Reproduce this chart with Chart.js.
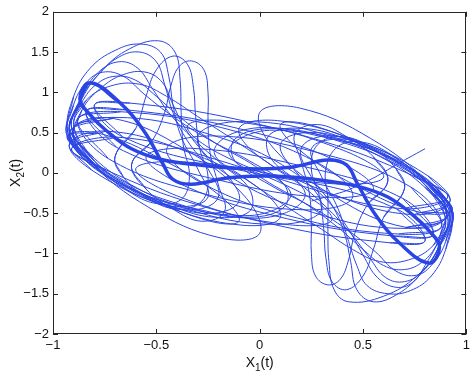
<!DOCTYPE html>
<html>
<head>
<meta charset="utf-8">
<script src="https://cdn.jsdelivr.net/npm/chart.js@4.4.0/dist/chart.umd.min.js"></script>
<style>
  html, body { margin: 0; padding: 0; background: #fff; }
  #wrap { width: 474px; height: 375px; }
</style>
</head>
<body>
<div id="wrap"><canvas id="phase"></canvas></div>
<script>
// Axis ticks
const xTicks = [-1, -0.5, 0, 0.5, 1];
const yTicks = [-2, -1.5, -1, -0.5, 0, 0.5, 1, 1.5, 2];

// Thick repeated orbit (closed S-shaped figure), [x1, x2]
const orbit = [
  [-0.82, 1.12], [-0.68, 0.88], [-0.56, 0.52], [-0.47, 0.12], [-0.42, -0.08], [-0.33, -0.14],
  [-0.15, -0.06], [0.05, -0.04], [0.30, -0.09], [0.48, -0.17], [0.62, -0.30], [0.74, -0.52],
  [0.82, -0.72], [0.87, -0.92], [0.82, -1.12], [0.68, -0.88], [0.56, -0.52], [0.47, -0.12],
  [0.42, 0.10], [0.33, 0.16], [0.15, 0.07], [-0.05, 0.05], [-0.30, 0.10], [-0.48, 0.17],
  [-0.62, 0.30], [-0.74, 0.52], [-0.82, 0.72], [-0.87, 0.92]
];

// Straight piece where the trajectory starts
const start = [[0.80, 0.30], [0.68, 0.13], [0.56, -0.05], [0.42, -0.22], [0.25, -0.35]];

// Tall lobes around the left well
const leftLobes = [
  [[-0.92, 0.48], [-0.86, 0.92], [-0.76, 1.28], [-0.63, 1.54], [-0.49, 1.64], [-0.41, 1.50], [-0.385, 1.15], [-0.38, 0.75], [-0.37, 0.35], [-0.34, -0.05], [-0.38, -0.33], [-0.50, -0.38], [-0.64, -0.22], [-0.79, 0.08]],
  [[-0.62, 0.10], [-0.52, 0.40], [-0.46, 0.75], [-0.43, 1.08], [-0.39, 1.32], [-0.33, 1.39], [-0.27, 1.28], [-0.25, 1.00], [-0.25, 0.64], [-0.24, 0.25], [-0.20, -0.15], [-0.17, -0.48], [-0.28, -0.60], [-0.42, -0.45], [-0.55, -0.20]],
  [[-0.92, 0.50], [-0.87, 0.90], [-0.78, 1.22], [-0.68, 1.44], [-0.58, 1.50], [-0.50, 1.38], [-0.46, 1.10], [-0.42, 0.75], [-0.35, 0.40], [-0.25, 0.05], [-0.20, -0.30], [-0.32, -0.46], [-0.50, -0.36], [-0.68, -0.12], [-0.82, 0.17]],
  [[-0.91, 0.55], [-0.86, 0.95], [-0.78, 1.25], [-0.68, 1.38], [-0.59, 1.30], [-0.52, 1.05], [-0.44, 0.75], [-0.32, 0.42], [-0.18, 0.10], [-0.05, -0.20], [-0.05, -0.48], [-0.22, -0.55], [-0.42, -0.42], [-0.62, -0.20], [-0.80, 0.15]],
  [[-0.93, 0.45], [-0.90, 0.85], [-0.84, 1.12], [-0.76, 1.25], [-0.66, 1.20], [-0.56, 0.98], [-0.42, 0.70], [-0.25, 0.42], [-0.05, 0.15], [0.12, -0.15], [0.12, -0.42], [-0.05, -0.55], [-0.30, -0.45], [-0.55, -0.28], [-0.75, -0.02]],
  [[-0.90, 0.60], [-0.84, 0.90], [-0.72, 1.08], [-0.58, 1.10], [-0.45, 0.95], [-0.30, 0.70], [-0.12, 0.40], [0.08, 0.05], [0.22, -0.25], [0.12, -0.50], [-0.12, -0.55], [-0.40, -0.38], [-0.65, -0.12], [-0.82, 0.20]],
  [[-0.90, 0.42], [-0.86, 0.78], [-0.77, 1.05], [-0.66, 1.22], [-0.55, 1.25], [-0.47, 1.12], [-0.42, 0.85], [-0.36, 0.55], [-0.27, 0.25], [-0.15, -0.05], [-0.10, -0.35], [-0.22, -0.50], [-0.42, -0.42], [-0.60, -0.22], [-0.78, 0.05]],
  [[-0.92, 0.55], [-0.86, 0.88], [-0.79, 1.10], [-0.70, 1.20], [-0.60, 1.15], [-0.50, 0.95], [-0.38, 0.68], [-0.22, 0.38], [-0.02, 0.08], [0.15, -0.25], [0.05, -0.48], [-0.15, -0.52], [-0.40, -0.40], [-0.62, -0.15], [-0.80, 0.18]],
  [[-0.70, 0.20], [-0.60, 0.55], [-0.55, 0.95], [-0.50, 1.28], [-0.42, 1.45], [-0.35, 1.35], [-0.32, 1.05], [-0.31, 0.70], [-0.29, 0.30], [-0.25, -0.05], [-0.28, -0.35], [-0.40, -0.45], [-0.55, -0.30], [-0.66, -0.05]],
  [[-0.93, 0.52], [-0.90, 0.95], [-0.82, 1.30], [-0.70, 1.52], [-0.58, 1.60], [-0.48, 1.50], [-0.44, 1.20], [-0.42, 0.85], [-0.38, 0.45], [-0.30, 0.05], [-0.25, -0.30], [-0.38, -0.42], [-0.55, -0.32], [-0.72, -0.08], [-0.86, 0.20]]
];

// Long tilted loops of the left well
const leftEllipses = [
  [[-0.92, 0.50], [-0.702, 0.689], [-0.255, 0.489], [0.160, 0.017], [0.30, -0.45], [0.082, -0.639], [-0.365, -0.439], [-0.78, 0.033]],
  [[-0.88, 0.66], [-0.672, 0.759], [-0.183, 0.561], [0.282, 0.123], [0.45, -0.30], [0.222, -0.459], [-0.267, -0.261], [-0.732, 0.177]],
  [[-0.92, 0.36], [-0.744, 0.519], [-0.365, 0.276], [-0.016, -0.167], [0.10, -0.55], [-0.086, -0.649], [-0.465, -0.406], [-0.814, 0.037]],
  [[-0.84, 0.76], [-0.649, 0.784], [-0.134, 0.57], [0.363, 0.162], [0.55, -0.20], [0.319, -0.304], [-0.196, -0.09], [-0.693, 0.318]],
  [[-0.91, 0.30], [-0.693, 0.444], [-0.241, 0.19], [0.191, -0.234], [0.35, -0.58], [0.143, -0.644], [-0.309, -0.39], [-0.741, 0.034]],
  [[-0.80, 0.84], [-0.628, 0.867], [-0.104, 0.661], [0.404, 0.281], [0.60, -0.05], [0.368, -0.137], [-0.156, 0.069], [-0.664, 0.449]],
  [[-0.93, 0.46], [-0.777, 0.491], [-0.471, 0.165], [-0.191, -0.287], [-0.10, -0.60], [-0.253, -0.591], [-0.559, -0.265], [-0.839, 0.187]],
  [[-0.90, 0.56], [-0.708, 0.676], [-0.365, 0.299], [-0.072, -0.292], [0.00, -0.75], [-0.192, -0.806], [-0.536, -0.429], [-0.828, 0.162]]
];

// Hanging lobes around the right well
const rightLobes = [
  [[0.93, -0.48], [0.87, -0.92], [0.76, -1.28], [0.60, -1.53], [0.43, -1.60], [0.36, -1.45], [0.335, -1.10], [0.33, -0.72], [0.33, -0.33], [0.32, 0.05], [0.38, 0.33], [0.50, 0.38], [0.64, 0.22], [0.79, -0.08]],
  [[0.62, -0.10], [0.52, -0.40], [0.46, -0.75], [0.43, -1.08], [0.39, -1.32], [0.33, -1.39], [0.27, -1.28], [0.25, -1.00], [0.25, -0.64], [0.24, -0.25], [0.20, 0.15], [0.17, 0.48], [0.28, 0.60], [0.42, 0.45], [0.55, 0.20]],
  [[0.92, -0.50], [0.87, -0.90], [0.78, -1.25], [0.67, -1.50], [0.55, -1.60], [0.47, -1.45], [0.44, -1.10], [0.41, -0.75], [0.35, -0.40], [0.25, -0.05], [0.20, 0.30], [0.32, 0.46], [0.50, 0.36], [0.68, 0.12], [0.82, -0.17]],
  [[0.91, -0.55], [0.86, -0.95], [0.79, -1.22], [0.70, -1.35], [0.61, -1.30], [0.53, -1.05], [0.44, -0.75], [0.32, -0.42], [0.18, -0.10], [0.05, 0.20], [0.05, 0.48], [0.22, 0.55], [0.42, 0.42], [0.62, 0.20], [0.80, -0.15]],
  [[0.93, -0.45], [0.90, -0.85], [0.84, -1.12], [0.76, -1.27], [0.66, -1.22], [0.56, -0.98], [0.42, -0.70], [0.25, -0.42], [0.05, -0.15], [-0.12, 0.15], [-0.12, 0.42], [0.05, 0.55], [0.30, 0.45], [0.55, 0.28], [0.75, 0.02]],
  [[0.90, -0.60], [0.84, -0.90], [0.72, -1.08], [0.58, -1.10], [0.45, -0.95], [0.30, -0.70], [0.12, -0.40], [-0.08, -0.05], [-0.22, 0.25], [-0.12, 0.50], [0.12, 0.55], [0.40, 0.38], [0.65, 0.12], [0.82, -0.20]],
  [[0.90, -0.42], [0.87, -0.80], [0.80, -1.15], [0.74, -1.36], [0.66, -1.42], [0.57, -1.30], [0.50, -1.02], [0.43, -0.70], [0.33, -0.35], [0.18, 0.00], [0.10, 0.35], [0.22, 0.50], [0.42, 0.42], [0.60, 0.22], [0.78, -0.05]],
  [[0.92, -0.55], [0.86, -0.88], [0.79, -1.10], [0.70, -1.20], [0.60, -1.15], [0.50, -0.95], [0.38, -0.68], [0.22, -0.38], [0.02, -0.08], [-0.15, 0.25], [-0.05, 0.48], [0.15, 0.52], [0.40, 0.40], [0.62, 0.15], [0.80, -0.18]],
  [[0.70, -0.20], [0.60, -0.55], [0.55, -0.95], [0.50, -1.28], [0.42, -1.45], [0.35, -1.35], [0.32, -1.05], [0.31, -0.70], [0.29, -0.30], [0.25, 0.05], [0.28, 0.35], [0.40, 0.45], [0.55, 0.30], [0.66, 0.05]],
  [[0.93, -0.52], [0.90, -0.95], [0.83, -1.28], [0.73, -1.46], [0.62, -1.50], [0.52, -1.40], [0.47, -1.15], [0.43, -0.85], [0.38, -0.45], [0.30, -0.05], [0.25, 0.30], [0.38, 0.42], [0.55, 0.32], [0.72, 0.08], [0.86, -0.20]]
];

// Long tilted loops of the right well
const rightEllipses = [
  [[0.92, -0.50], [0.702, -0.689], [0.255, -0.489], [-0.160, -0.017], [-0.30, 0.45], [-0.082, 0.639], [0.365, 0.439], [0.78, -0.033]],
  [[0.88, -0.66], [0.672, -0.759], [0.183, -0.561], [-0.282, -0.123], [-0.45, 0.30], [-0.222, 0.459], [0.267, 0.261], [0.732, -0.177]],
  [[0.92, -0.36], [0.744, -0.519], [0.365, -0.276], [0.016, 0.167], [-0.10, 0.55], [0.086, 0.649], [0.465, 0.406], [0.814, -0.037]],
  [[0.84, -0.76], [0.649, -0.784], [0.134, -0.57], [-0.363, -0.162], [-0.55, 0.20], [-0.319, 0.304], [0.196, 0.09], [0.693, -0.318]],
  [[0.91, -0.30], [0.693, -0.444], [0.241, -0.19], [-0.191, 0.234], [-0.35, 0.58], [-0.143, 0.644], [0.309, 0.39], [0.741, -0.034]],
  [[0.80, -0.84], [0.628, -0.867], [0.104, -0.661], [-0.404, -0.281], [-0.60, 0.05], [-0.368, 0.137], [0.156, -0.069], [0.664, -0.449]],
  [[0.93, -0.46], [0.777, -0.491], [0.471, -0.165], [0.191, 0.287], [0.10, 0.60], [0.253, 0.591], [0.559, 0.265], [0.839, -0.187]],
  [[0.90, -0.56], [0.708, -0.676], [0.365, -0.299], [0.072, 0.292], [0.00, 0.75], [0.192, 0.806], [0.536, 0.429], [0.828, -0.162]]
];

const lineBlue = '#2a45e4';

function toPoints(pairs) {
  return pairs.map(p => ({ x: p[0], y: p[1] }));
}
// wrap a closed loop so the spline stays smooth where it joins
function closeLoop(pairs) {
  return [pairs[pairs.length - 1], ...pairs, pairs[0], pairs[1]];
}

const datasets = [];
[leftLobes, leftEllipses, rightLobes, rightEllipses].forEach(group => {
  group.forEach(loop => datasets.push({ data: toPoints(closeLoop(loop)), borderWidth: 1 }));
});
datasets.push({ data: toPoints(start), borderWidth: 1, tension: 0.2 });
datasets.push({ data: toPoints(closeLoop(orbit)), borderWidth: 3.5 });
datasets.forEach(d => {
  d.showLine = true;
  d.pointRadius = 0;
  d.borderColor = lineBlue;
  d.fill = false;
  d.borderJoinStyle = 'round';
  if (d.tension === undefined) d.tension = 0.4;
});

const fontFamily = '"Liberation Sans", Arial, Helvetica, sans-serif';
const fmt = v => (v < 0 ? '\u2212' : '') + Math.abs(v);

// Box, inward ticks and axis titles like the original figure
const matlabAxes = {
  id: 'matlabAxes',
  afterDraw(chart) {
    const { ctx, chartArea: a, scales } = chart;
    ctx.save();
    ctx.strokeStyle = '#262626';
    ctx.lineWidth = 1;
    ctx.strokeRect(Math.round(a.left) + 0.5, Math.round(a.top) + 0.5,
      Math.round(a.right - a.left) - 1, Math.round(a.bottom - a.top) - 1);
    const len = 5;
    ctx.beginPath();
    xTicks.forEach(v => {
      const px = Math.round(scales.x.getPixelForValue(v)) + 0.5;
      ctx.moveTo(px, a.bottom); ctx.lineTo(px, a.bottom - len);
      ctx.moveTo(px, a.top); ctx.lineTo(px, a.top + len);
    });
    yTicks.forEach(v => {
      const py = Math.round(scales.y.getPixelForValue(v)) + 0.5;
      ctx.moveTo(a.left, py); ctx.lineTo(a.left + len, py);
      ctx.moveTo(a.right, py); ctx.lineTo(a.right - len, py);
    });
    ctx.stroke();

    // axis titles with subscripts
    ctx.fillStyle = '#111';
    const drawTitle = (sub, x, y) => {
      ctx.font = '14px ' + fontFamily;
      const wX = ctx.measureText('X').width;
      ctx.font = '10px ' + fontFamily;
      const wS = ctx.measureText(sub).width;
      ctx.font = '14px ' + fontFamily;
      const wT = ctx.measureText('(t)').width;
      let cx = x - (wX + wS + wT) / 2;
      ctx.textBaseline = 'alphabetic';
      ctx.textAlign = 'left';
      ctx.fillText('X', cx, y);
      cx += wX;
      ctx.font = '10px ' + fontFamily;
      ctx.fillText(sub, cx, y + 4);
      cx += wS;
      ctx.font = '14px ' + fontFamily;
      ctx.fillText('(t)', cx, y);
    };
    drawTitle('1', (a.left + a.right) / 2, 367);
    ctx.translate(20, (a.top + a.bottom) / 2);
    ctx.rotate(-Math.PI / 2);
    drawTitle('2', 0, 0);
    ctx.restore();
  }
};

new Chart(document.getElementById('phase'), {
  type: 'scatter',
  data: { datasets: datasets },
  plugins: [matlabAxes],
  options: {
    responsive: true,
    maintainAspectRatio: false,
    animation: false,
    layout: { padding: { top: 4, right: 1, left: 0, bottom: 0 } },
    plugins: { legend: { display: false }, tooltip: { enabled: false } },
    scales: {
      x: {
        type: 'linear', min: -1, max: 1,
        afterBuildTicks: s => { s.ticks = xTicks.map(v => ({ value: v })); },
        ticks: { callback: fmt, color: '#111', font: { family: fontFamily, size: 13 }, padding: 4, maxRotation: 0 },
        grid: { display: false, drawTicks: false },
        border: { display: false },
        afterFit: s => { s.height = 41; }
      },
      y: {
        type: 'linear', min: -2, max: 2,
        afterBuildTicks: s => { s.ticks = yTicks.map(v => ({ value: v })); },
        ticks: { callback: fmt, color: '#111', font: { family: fontFamily, size: 13 }, padding: 4 },
        grid: { display: false, drawTicks: false },
        border: { display: false },
        afterFit: s => { s.width = 53; }
      }
    }
  }
});
</script>
</body>
</html>
